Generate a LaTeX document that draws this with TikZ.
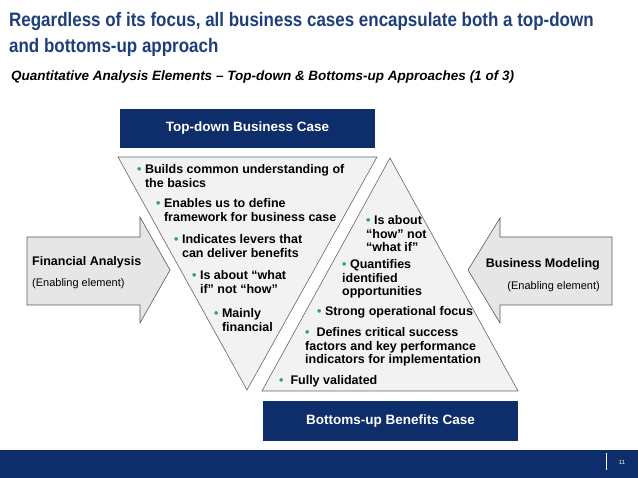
\documentclass[tikz,border=0pt]{standalone}
\usepackage{fontspec}
\setmainfont{Liberation Sans}
\begin{document}
\begin{tikzpicture}[x=1pt,y=-1pt,
  navy/.style={fill=navyc,draw=none},
  tx/.style={font=\fontsize{12.5}{13.5}\selectfont\bfseries,align=left,inner sep=0pt,anchor=west},
  shade/.style={fill=grayf,draw=gray!80!black,line width=0.6pt}]
\definecolor{navyc}{HTML}{0E2D6B}
\definecolor{titlec}{HTML}{1F3F7A}
\definecolor{grayf}{HTML}{F2F2F2}
\definecolor{arrf}{HTML}{E6E6E6}
\definecolor{bul}{HTML}{2E9E7A}
\newcommand{\bu}{{\color{bul}\textbullet}~}
\useasboundingbox (0,0) rectangle (638,478);
\fill[white] (0,0) rectangle (638,478);
\node[anchor=west,inner sep=0pt,font=\fontsize{19.5}{26}\selectfont\bfseries,text=titlec,align=left,xscale=0.87,transform shape] (title) at (9,34) {Regardless of its focus, all business cases encapsulate both a top-down\\and bottoms-up approach};
\node[anchor=west,inner sep=0pt,font=\fontsize{13.5}{15}\selectfont\bfseries\itshape] (sub) at (11,77) {Quantitative Analysis Elements -- Top-down \& Bottoms-up Approaches (1 of 3)};
% arrows
\draw[fill=arrf,draw=gray!70!black,line width=0.6pt] (27,237) -- (140,237) -- (140,217) -- (170,270) -- (140,323) -- (140,305) -- (27,305) -- cycle;
\draw[fill=arrf,draw=gray!70!black,line width=0.6pt] (612,237) -- (500,237) -- (500,218) -- (468,270) -- (500,323) -- (500,305) -- (612,305) -- cycle;
% triangles
\draw[shade] (118,157) -- (377,157) -- (247,390) -- cycle;
\draw[shade] (390,158) -- (518,391) -- (262,391) -- cycle;
% boxes
\node[navy,minimum width=255,minimum height=39,text=white,font=\fontsize{13.5}{15}\selectfont\bfseries] (top) at (247.5,128.5) {Top-down Business Case};
\node[navy,minimum width=255,minimum height=40,text=white,font=\fontsize{13.5}{15}\selectfont\bfseries] (bot) at (390.5,421) {Bottoms-up Benefits Case};
% arrow texts
\node[tx] (fa) at (32,262) {Financial Analysis};
\node[tx,font=\fontsize{11}{12}\selectfont] (fae) at (32,284) {(Enabling element)};
\node[tx,anchor=east] (bm) at (600,264) {Business Modeling};
\node[tx,anchor=east,font=\fontsize{11}{12}\selectfont] (bme) at (600,287) {(Enabling element)};
% left triangle texts
\node[tx] (l1) at (137,176) {\bu Builds common understanding of\\\phantom{\bu}the basics};
\node[tx] (l2) at (156,210) {\bu Enables us to define\\\phantom{\bu}framework for business case};
\node[tx] (l3) at (174,246) {\bu Indicates levers that\\\phantom{\bu}can deliver benefits};
\node[tx] (l4) at (192,282) {\bu Is about ``what\\\phantom{\bu}if'' not ``how''};
\node[tx] (l5) at (214,320) {\bu Mainly\\\phantom{\bu}financial};
% right triangle texts
\node[tx] (r1) at (366,234) {\bu Is about\\``how'' not\\``what if''};
\node[tx] (r2) at (342,279) {\bu Quantifies\\identified\\opportunities};
\node[tx] (r3) at (317,312) {\bu Strong operational focus};
\node[tx] (r4) at (305,347) {\bu\ Defines critical success\\factors and key performance\\indicators for implementation};
\node[tx] (r5) at (279,381) {\bu\ Fully validated};
% footer
\fill[navyc] (0,450) rectangle (638,478);
\draw[white,line width=0.5pt] (606,453) -- (606,470);
\node[text=white,font=\fontsize{6}{7}\selectfont,inner sep=0pt] (pg) at (622,462) {11};
\end{tikzpicture}
\end{document}
